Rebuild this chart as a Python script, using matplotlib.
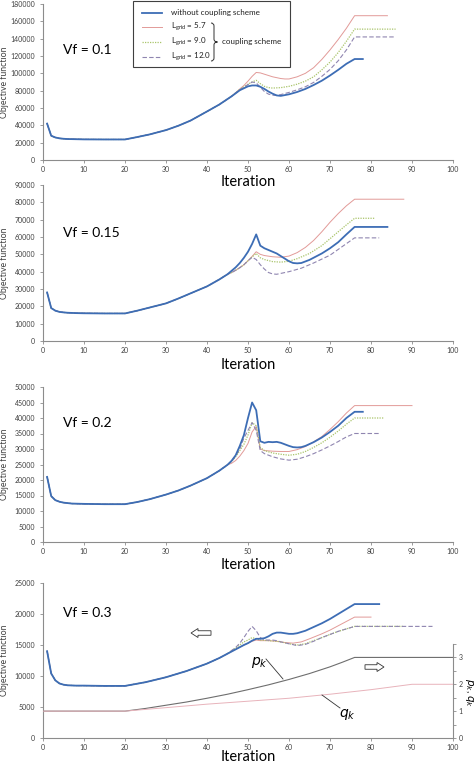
import matplotlib
matplotlib.use('Agg')
import matplotlib.pyplot as plt
from matplotlib.lines import Line2D
from matplotlib.patches import Rectangle, FancyArrow, PathPatch
from matplotlib.path import Path
from matplotlib.transforms import Affine2D
from matplotlib.ticker import MultipleLocator

plt.rcParams['font.family'] = ['Lato', 'DejaVu Sans']
plt.rcParams['mathtext.fontset'] = 'dejavusans'

# ---------------- data ----------------
# Panel 1 : Vf = 0.1
v1_x_start = [1, 2, 3, 4, 5, 6, 8, 10, 15, 20, 23, 26, 30, 33, 36, 40, 43, 46]
v1_y_start = [42000, 28000, 26000, 25000, 24500, 24200, 24000, 23800, 23700, 23700,
              26500, 29500, 34500, 39500, 45500, 56000, 64000, 73500]
v1_blue_x = [48, 50, 51, 52, 53, 54, 55, 56, 57, 58, 60, 62, 64, 66, 68, 70, 72, 74, 76, 78]
v1_blue_y = [80500, 85000, 86000, 86000, 84500, 82000, 79000, 76500, 74500, 74000, 75800,
             78500, 82000, 86500, 91500, 97500, 104000, 111000, 116500, 116500]
v1_l57_x = [48, 49, 50, 51, 52, 53, 54, 56, 58, 59, 60, 62, 64, 66, 68, 70, 72, 74, 76, 84]
v1_l57_y = [82000, 86000, 91000, 96500, 101000, 100500, 99000, 96000, 94000, 93500, 93500,
            96000, 100000, 106500, 116000, 127000, 139000, 152000, 166500, 166500]
v1_l90_x = [48, 49, 50, 51, 52, 53, 54, 55, 56, 58, 60, 62, 64, 66, 68, 70, 72, 74, 76, 86]
v1_l90_y = [81500, 84500, 87500, 90000, 92000, 88000, 85000, 83500, 83000, 83500, 85000,
            87500, 91000, 96000, 104000, 113000, 124000, 137000, 151000, 151000]
v1_l120_x = [48, 49, 50, 51, 52, 53, 54, 55, 56, 57, 58, 60, 62, 64, 66, 68, 70, 72, 74, 76, 86]
v1_l120_y = [81000, 84000, 87000, 90000, 89000, 84000, 79000, 76000, 74800, 74500, 75500,
             78000, 81000, 84500, 89500, 96500, 104500, 114500, 127000, 142000, 142000]

# Panel 2 : Vf = 0.15
v2_x_start = [1, 2, 3, 4, 5, 6, 8, 10, 15, 20, 23, 26, 30, 33, 36, 40, 43, 45]
v2_y_start = [28000, 19000, 17500, 16800, 16500, 16300, 16100, 16000, 15900, 15900,
              17500, 19300, 21700, 24500, 27500, 31500, 35500, 38500]
v2_blue_x = [46, 47, 48, 49, 50, 51, 52, 53, 54, 55, 56, 57, 58, 59, 60, 61, 62, 63, 65,
             68, 70, 72, 74, 76, 84]
v2_blue_y = [40500, 42500, 45000, 48000, 51500, 56000, 61500, 55000, 53500, 52500, 51500,
             50500, 49000, 47500, 46000, 45000, 44800, 45000, 46800, 50500, 53500, 57000,
             61500, 65800, 65800]
v2_l57_x = [46, 47, 48, 49, 50, 51, 52, 53, 54, 56, 58, 60, 62, 64, 66, 68, 70, 72, 74, 76, 88]
v2_l57_y = [39500, 40800, 42300, 44000, 46300, 48800, 51500, 50000, 49300, 48600, 48300,
            49000, 51000, 54000, 58000, 63000, 68500, 73500, 78000, 81800, 81800]
v2_l90_x = [46, 47, 48, 49, 50, 51, 52, 53, 54, 56, 58, 60, 62, 65, 68, 70, 72, 74, 76, 81]
v2_l90_y = [39500, 40800, 42300, 44000, 46300, 48500, 50500, 48000, 47000, 45800, 45500,
            46000, 47500, 50500, 55000, 59000, 63000, 67000, 70800, 70800]
v2_l120_x = [46, 47, 48, 49, 50, 51, 52, 53, 54, 55, 56, 57, 58, 60, 63, 66, 70, 73, 76, 82]
v2_l120_y = [39500, 40800, 42300, 44000, 46300, 48300, 47000, 44000, 41500, 39500, 38700,
             38500, 39000, 40000, 42000, 45000, 49500, 54500, 59500, 59500]

# Panel 3 : Vf = 0.2
v3_x_start = [1, 2, 3, 4, 5, 7, 10, 15, 20, 23, 26, 30, 33, 36, 40, 43, 45]
v3_y_start = [21000, 14800, 13500, 13000, 12700, 12400, 12300, 12200, 12200, 12900,
              13800, 15300, 16600, 18200, 20600, 23000, 24900]
v3_blue_x = [46, 47, 48, 49, 50, 51, 52, 53, 54, 55, 56, 57, 58, 59, 60, 61, 62, 63, 64,
             66, 68, 70, 72, 74, 76, 78]
v3_blue_y = [26200, 28000, 31000, 34500, 40000, 45000, 42500, 32500, 32000, 32300, 32200,
             32300, 32000, 31500, 31000, 30600, 30500, 30600, 31000, 32200, 33700, 35500,
             37500, 40000, 42000, 42000]
v3_l57_x = [46, 47, 48, 49, 50, 51, 52, 53, 54, 56, 58, 60, 62, 64, 66, 68, 70, 72, 74, 76, 90]
v3_l57_y = [25400, 26300, 27700, 29500, 31800, 35500, 37300, 30000, 29500, 29300, 29200,
            29200, 29800, 30800, 32300, 34000, 36300, 38800, 41600, 44000, 44000]
v3_l90_x = [46, 47, 48, 49, 50, 51, 52, 53, 54, 56, 58, 60, 62, 64, 66, 68, 70, 72, 74, 76, 83]
v3_l90_y = [26000, 27500, 29500, 31500, 34500, 38500, 37500, 30500, 29500, 28700, 28300,
            28000, 28300, 29200, 30500, 32000, 33800, 35800, 38000, 40000, 40000]
v3_l120_x = [46, 47, 48, 49, 50, 51, 52, 53, 54, 56, 58, 60, 62, 64, 66, 68, 70, 72, 74, 76, 82]
v3_l120_y = [26000, 27800, 30000, 33500, 36000, 38500, 36000, 29500, 28500, 27500, 26800,
             26400, 26700, 27500, 28500, 29700, 31000, 32400, 33900, 35000, 35000]

# Panel 4 : Vf = 0.3
v4_x_start = [1, 2, 3, 4, 5, 6, 8, 10, 15, 20, 25, 30, 35, 40, 43, 45]
v4_y_start = [14000, 10400, 9300, 8800, 8600, 8500, 8450, 8450, 8400, 8400, 9000, 9800,
              10800, 12000, 12900, 13600]
v4_blue_x = [47, 49, 50, 51, 52, 53, 54, 55, 56, 57, 58, 59, 60, 61, 62, 64, 66, 68, 70,
             72, 74, 76, 82]
v4_blue_y = [14300, 15000, 15300, 15700, 16000, 16000, 16100, 16400, 16800, 17000, 17000,
             16900, 16800, 16800, 16900, 17300, 17900, 18500, 19200, 20000, 20800, 21600, 21600]
v4_l57_x = [47, 49, 50, 51, 52, 53, 55, 57, 59, 61, 63, 65, 68, 70, 72, 74, 76, 80]
v4_l57_y = [14300, 15000, 15300, 15600, 15800, 15700, 15700, 15600, 15400, 15300, 15500,
            16000, 16800, 17400, 18100, 18800, 19500, 19500]
v4_l90_x = [46, 47, 48, 49, 50, 51, 52, 53, 55, 57, 58, 60, 62, 64, 66, 68, 70, 72, 74, 76, 88]
v4_l90_y = [14100, 14500, 15000, 15500, 15800, 16200, 16000, 15800, 15700, 15600, 15500,
            15200, 15000, 15200, 15700, 16200, 16700, 17200, 17600, 18000, 18000]
v4_l120_x = [46, 47, 48, 49, 50, 51, 52, 53, 54, 56, 57, 58, 60, 62, 64, 66, 68, 70, 72,
             74, 76, 95]
v4_l120_y = [14100, 14600, 15300, 16200, 17200, 18000, 17300, 16200, 15800, 15800, 15700,
             15500, 15200, 14900, 15100, 15600, 16200, 16700, 17200, 17600, 18000, 18000]

# penalty parameters (right axis of panel 4)
pk_x = [0, 20, 25, 30, 35, 40, 45, 50, 55, 60, 65, 70, 73, 76, 100]
pk_y = [1, 1, 1.1, 1.22, 1.34, 1.48, 1.63, 1.8, 1.98, 2.18, 2.4, 2.65, 2.82, 3.0, 3.0]
qk_x = [0, 20, 30, 40, 50, 60, 70, 80, 90, 100]
qk_y = [1, 1, 1.13, 1.26, 1.37, 1.48, 1.63, 1.8, 2.0, 2.0]

vf_labels = ['Vf = 0.1', 'Vf = 0.15', 'Vf = 0.2', 'Vf = 0.3']
y_max = [180000, 90000, 50000, 25000]
y_step = [20000, 10000, 5000, 5000]
legend_labels = ['without coupling scheme', 'L$_\\mathregular{grid}$ = 5.7',
                 'L$_\\mathregular{grid}$ = 9.0', 'L$_\\mathregular{grid}$ = 12.0']

panels = [
    (v1_x_start, v1_y_start, v1_blue_x, v1_blue_y, v1_l57_x, v1_l57_y, v1_l90_x, v1_l90_y, v1_l120_x, v1_l120_y),
    (v2_x_start, v2_y_start, v2_blue_x, v2_blue_y, v2_l57_x, v2_l57_y, v2_l90_x, v2_l90_y, v2_l120_x, v2_l120_y),
    (v3_x_start, v3_y_start, v3_blue_x, v3_blue_y, v3_l57_x, v3_l57_y, v3_l90_x, v3_l90_y, v3_l120_x, v3_l120_y),
    (v4_x_start, v4_y_start, v4_blue_x, v4_blue_y, v4_l57_x, v4_l57_y, v4_l90_x, v4_l90_y, v4_l120_x, v4_l120_y),
]

# ---------------- styles ----------------
C_BLUE = '#3d6db5'
C_PINK = '#e29a98'
C_GREEN = '#a9c46a'
C_DASH = '#8f85b0'
C_SPINE = '#8c8c8c'
C_TICK = '#404040'
styles = [
    dict(color=C_PINK, lw=0.7, ls='-'),
    dict(color=C_GREEN, lw=0.9, ls=(0, (1, 1))),
    dict(color=C_DASH, lw=0.8, ls=(0, (4, 2))),
]
blue_style = dict(color=C_BLUE, lw=1.3, ls='-')

W, H = 474, 766
fig = plt.figure(figsize=(W / 100, H / 100), dpi=100)
PX = Affine2D().scale(1 / W, -1 / H).translate(0, 1) + fig.transFigure

ax_left, ax_right = 43, 453
ax_tops = [4, 185, 387, 583]
ax_bots = [160, 341, 542, 738]
iter_y = [182, 365, 565, 757]
vf_y = [50, 233, 423, 613]


def fr(px_left, px_top, px_right, px_bot):
    return [px_left / W, 1 - px_bot / H, (px_right - px_left) / W, (px_bot - px_top) / H]


def style_axis(ax):
    for s in ['top', 'right']:
        ax.spines[s].set_visible(False)
    for s in ['left', 'bottom']:
        ax.spines[s].set_color(C_SPINE)
        ax.spines[s].set_linewidth(0.8)
    ax.tick_params(axis='both', direction='out', length=2.2, width=0.6, color=C_SPINE,
                   labelsize=5, labelcolor=C_TICK)
    ax.tick_params(axis='x', pad=2.2)
    ax.tick_params(axis='y', pad=3.4)


axes = []
for i, data in enumerate(panels):
    xs, ys, bx, by, ax57, ay57, ax90, ay90, ax120, ay120 = data
    ax = fig.add_axes(fr(ax_left, ax_tops[i], ax_right, ax_bots[i]))
    axes.append(ax)
    for (sx, sy), st in zip([(ax57, ay57), (ax90, ay90), (ax120, ay120)], styles):
        ax.plot(xs + sx, ys + sy, **st)
    ax.plot(xs + bx, ys + by, **blue_style)
    ax.set_xlim(0, 100)
    ax.set_ylim(0, y_max[i])
    ax.xaxis.set_major_locator(MultipleLocator(10))
    ax.yaxis.set_major_locator(MultipleLocator(y_step[i]))
    style_axis(ax)
    fig.text(63 / W, 1 - vf_y[i] / H, vf_labels[i], fontsize=10, ha='left', va='center',
             color='black')
    fig.text(248 / W, 1 - iter_y[i] / H, 'Iteration', fontsize=10.5, ha='center',
             va='center', color='black')
    fig.text(4.5 / W, 1 - (ax_tops[i] + ax_bots[i]) / 2 / H, 'Objective function',
             fontsize=6.3, rotation=90, ha='center', va='center', color=C_TICK)

# right axis for p_k, q_k
axr = fig.add_axes(fr(ax_left, 644, ax_right, 738))
axr.patch.set_visible(False)
axr.plot(pk_x, pk_y, color='#6e6e6e', lw=0.8)
axr.plot(qk_x, qk_y, color='#e8b3bb', lw=0.7)
axr.set_xlim(0, 100)
axr.set_ylim(0, 3.5)
for s in ['top', 'left', 'bottom']:
    axr.spines[s].set_visible(False)
axr.spines['right'].set_color(C_SPINE)
axr.spines['right'].set_linewidth(0.8)
axr.xaxis.set_visible(False)
axr.yaxis.tick_right()
axr.yaxis.set_major_locator(MultipleLocator(1))
axr.yaxis.set_minor_locator(MultipleLocator(0.5))
axr.tick_params(axis='y', which='both', direction='out', length=2.2, width=0.6,
                color=C_SPINE, labelsize=5, labelcolor=C_TICK, pad=2)
fig.text(469 / W, 1 - 693 / H, r'$p_k$, $q_k$', rotation=270, fontsize=7.5,
         ha='center', va='center')

# p_k / q_k callouts
fig.text(259 / W, 1 - 662 / H, r'$p_k$', fontsize=10, ha='center', va='center')
fig.add_artist(Line2D([266, 283], [659, 679], color='#333333', lw=0.6, transform=PX))
fig.text(347 / W, 1 - 714 / H, r'$q_k$', fontsize=10, ha='center', va='center')
fig.add_artist(Line2D([322, 340], [695, 708], color='#333333', lw=0.6, transform=PX))

# hollow arrows
fig.add_artist(FancyArrow(211, 633, -20, 0, width=4.5, head_width=9, head_length=7,
                          length_includes_head=True, fc='white', ec='#333333', lw=0.6,
                          transform=PX))
fig.add_artist(FancyArrow(365, 667, 19, 0, width=4.5, head_width=9, head_length=7,
                          length_includes_head=True, fc='white', ec='#333333', lw=0.6,
                          transform=PX))

# ---------------- legend (panel 1) ----------------
fig.add_artist(Rectangle((133, 0.6), 157, 66, fc='white', ec='#404040', lw=0.8,
                         transform=PX, zorder=10))
leg_rows = [12.7, 26.7, 41.7, 56.7]
leg_styles = [blue_style] + styles
for row, st, lab in zip(leg_rows, leg_styles, legend_labels):
    fig.add_artist(Line2D([142, 162], [row, row], transform=PX, zorder=11, **st))
    fig.text(171 / W, 1 - row / H, lab, fontsize=5.8, ha='left', va='center',
             color='#202020', zorder=11)
brace = Path([(211, 23), (214, 23), (214, 26), (214, 39), (214, 42), (217.5, 42),
              (214, 42), (214, 45), (214, 58), (214, 61), (211, 61)],
             [Path.MOVETO, Path.CURVE3, Path.CURVE3, Path.LINETO, Path.CURVE3, Path.CURVE3,
              Path.CURVE3, Path.CURVE3, Path.LINETO, Path.CURVE3, Path.CURVE3])
fig.add_artist(PathPatch(brace, fc='none', ec='#303030', lw=0.7, transform=PX, zorder=11))
fig.text(222 / W, 1 - 41.7 / H, 'coupling scheme', fontsize=5.8, ha='left', va='center',
         color='#202020', zorder=11)

fig.savefig('out.png', dpi=100)
